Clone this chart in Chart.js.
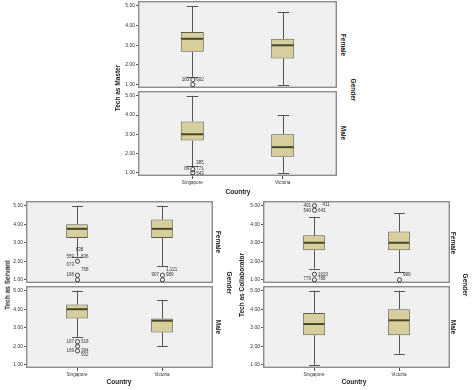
<!DOCTYPE html>
<html><head><meta charset="utf-8">
<script src="https://cdn.jsdelivr.net/npm/chart.js@4/dist/chart.umd.min.js"></script>
<style>
html,body{margin:0;padding:0;background:#fff;}
#wrap{position:relative;width:474px;height:390px;overflow:hidden;font-family:"Liberation Sans",Arial,sans-serif;}
canvas{position:absolute;}
.t{position:absolute;white-space:nowrap;font-weight:bold;color:#222;line-height:1;font-size:6.5px;transform:translate(-50%,-50%);}
.r90{transform:translate(-50%,-50%) rotate(90deg);}
.rm90{transform:translate(-50%,-50%) rotate(-90deg);}
</style></head>
<body><div id="wrap">
<canvas id="mF" width="221" height="87" style="left:116px;top:1px"></canvas>
<canvas id="mM" width="221" height="99" style="left:116px;top:91px"></canvas>
<canvas id="sF" width="209" height="82" style="left:4px;top:201px"></canvas>
<canvas id="sM" width="209" height="96" style="left:4px;top:286px"></canvas>
<canvas id="cF" width="209" height="82" style="left:241px;top:201px"></canvas>
<canvas id="cM" width="209" height="96" style="left:241px;top:286px"></canvas>

<div class="t rm90" style="left:118px;top:88px">Tech as Master</div>
<div class="t r90" style="left:343px;top:45px">Female</div>
<div class="t r90" style="left:343px;top:133px">Male</div>
<div class="t r90" style="left:353px;top:90px">Gender</div>
<div class="t" style="left:238px;top:192px">Country</div>

<div class="t rm90" style="left:8px;top:285px">Tech as Servant</div>
<div class="t r90" style="left:218px;top:242px">Female</div>
<div class="t r90" style="left:218px;top:327px">Male</div>
<div class="t r90" style="left:229px;top:283px">Gender</div>
<div class="t" style="left:119px;top:382px">Country</div>

<div class="t rm90" style="left:242px;top:285px">Tech as Collaborator</div>
<div class="t r90" style="left:453px;top:243px">Female</div>
<div class="t r90" style="left:453px;top:327px">Male</div>
<div class="t r90" style="left:465px;top:285px">Gender</div>
<div class="t" style="left:354px;top:382px">Country</div>
</div>
<script>
const countries = ['Singapore', 'Victoria'];
const yTickValues = [1, 2, 3, 4, 5];

// [min, q1, median, q3, max] for Singapore, Victoria
const masterFemale = [[1.4, 2.67, 3.33, 3.67, 5.0], [1.0, 2.33, 3.0, 3.33, 4.67]];
const masterMale = [[1.33, 2.67, 3.0, 3.67, 5.0], [1.0, 1.83, 2.33, 3.0, 4.0]];
const servantFemale = [[2.25, 3.25, 3.75, 4.0, 5.0], [1.75, 3.25, 3.75, 4.25, 5.0]];
const servantMale = [[2.5, 3.5, 4.0, 4.25, 5.0], [2.0, 2.75, 3.38, 3.5, 4.5]];
const collabFemale = [[1.6, 2.6, 3.0, 3.4, 4.4], [1.4, 2.6, 3.0, 3.6, 4.6]];
const collabMale = [[1.0, 2.6, 3.2, 3.8, 5.0], [1.6, 2.6, 3.4, 4.0, 5.0]];

// outliers: [country index, value]
const masterFemaleOutliers = [[0, 1.25], [0, 1.0]];
const masterMaleOutliers = [[0, 1.17], [0, 1.0]];
const servantFemaleOutliers = [[0, 2.0], [0, 1.25], [0, 1.0], [1, 1.25], [1, 1.0]];
const servantMaleOutliers = [[0, 2.25], [0, 2.0], [0, 1.75]];
const collabFemaleOutliers = [[0, 5.0], [0, 4.75], [0, 1.3], [0, 1.0], [1, 1.0]];
const collabMaleOutliers = [];

// case labels: [country index, value, text, side]
const masterFemaleLabels = [[0, 1.27, '183', 'L'], [0, 1.27, '602', 'R']];
const masterMaleLabels = [[0, 1.5, '385', 'R'], [0, 1.2, '89', 'L'], [0, 1.2, '771', 'R'], [0, 0.97, '543', 'R']];
const servantFemaleLabels = [[0, 2.6, '638', 'C'], [0, 2.27, '559', 'L'], [0, 2.27, '836', 'R'], [0, 1.82, '673', 'L'],
  [0, 1.54, '758', 'R'], [0, 1.29, '168', 'L'], [1, 1.54, '1,121', 'R'], [1, 1.29, '907', 'L'], [1, 1.29, '989', 'R']];
const servantMaleLabels = [[0, 2.25, '167', 'L'], [0, 2.25, '518', 'R'], [0, 1.77, '169', 'L'], [0, 1.77, '384', 'R'], [0, 1.52, '502', 'R']];
const collabFemaleLabels = [[0, 5.0, '401', 'L'], [0, 5.07, '411', 'RR'], [0, 4.75, '540', 'L'], [0, 4.75, '643', 'R'],
  [0, 1.3, '1620', 'R'], [0, 1.05, '779', 'L'], [0, 1.05, '788', 'R'], [1, 1.3, '989', 'R']];
const collabMaleLabels = [];

const FONT = '"Liberation Sans", Arial, sans-serif';

function makeBoxPlugin(stats, outs, labs) {
  return {
    id: 'boxExtras',
    beforeDatasetsDraw(chart) {
      const {ctx, chartArea: a} = chart;
      ctx.save();
      ctx.fillStyle = '#f0f0f0';
      ctx.fillRect(a.left, a.top, a.right - a.left, a.bottom - a.top);
      ctx.strokeStyle = '#8c8c8c';
      ctx.lineWidth = 1.4;
      ctx.strokeRect(a.left + 0.7, a.top + 0.7, a.right - a.left - 1.4, a.bottom - a.top - 1.4);
      ctx.restore();
    },
    afterDatasetsDraw(chart) {
      const {ctx} = chart;
      const xs = chart.scales.x, ys = chart.scales.y;
      const meta = chart.getDatasetMeta(0);
      const line = (x1, y1, x2, y2) => { ctx.beginPath(); ctx.moveTo(x1, y1); ctx.lineTo(x2, y2); ctx.stroke(); };
      ctx.save();
      stats.forEach((s, i) => {
        const el = meta.data[i];
        const cx = Math.round(el.x) + 0.5;
        const w = el.width;
        const py = v => ys.getPixelForValue(v);
        ctx.strokeStyle = '#555';
        ctx.lineWidth = 1;
        line(cx, py(s[4]), cx, py(s[3]));
        line(cx, py(s[1]), cx, py(s[0]));
        line(cx - w / 4, Math.round(py(s[4])) + 0.5, cx + w / 4, Math.round(py(s[4])) + 0.5);
        line(cx - w / 4, Math.round(py(s[0])) + 0.5, cx + w / 4, Math.round(py(s[0])) + 0.5);
        ctx.strokeStyle = '#4b4628';
        ctx.lineWidth = 2;
        line(el.x - w / 2 + 0.5, py(s[2]), el.x + w / 2 - 0.5, py(s[2]));
      });
      ctx.strokeStyle = '#333';
      ctx.lineWidth = 0.9;
      outs.forEach(o => {
        ctx.beginPath();
        ctx.arc(xs.getPixelForValue(o[0]) + 0.5, ys.getPixelForValue(o[1]), 2.1, 0, Math.PI * 2);
        ctx.stroke();
      });
      ctx.fillStyle = '#333';
      ctx.font = '4.5px ' + FONT;
      ctx.textBaseline = 'middle';
      labs.forEach(l => {
        const cx = xs.getPixelForValue(l[0]) + 0.5;
        const yy = ys.getPixelForValue(l[1]);
        if (l[3] === 'L') { ctx.textAlign = 'right'; ctx.fillText(l[2], cx - 3.5, yy); }
        else if (l[3] === 'R') { ctx.textAlign = 'left'; ctx.fillText(l[2], cx + 3.5, yy); }
        else if (l[3] === 'RR') { ctx.textAlign = 'left'; ctx.fillText(l[2], cx + 8, yy); }
        else { ctx.textAlign = 'center'; ctx.fillText(l[2], cx + 2, yy); }
      });
      ctx.restore();
    }
  };
}

function facet(id, stats, outs, labs, showX) {
  new Chart(document.getElementById(id), {
    type: 'bar',
    data: {
      datasets: [{
        data: stats.map((s, i) => ({x: i, y: [s[1], s[3]]})),
        backgroundColor: '#d6ce9b',
        borderColor: '#5f5d48',
        borderWidth: 1,
        borderSkipped: false,
        barPercentage: 0.255,
        categoryPercentage: 1
      }]
    },
    options: {
      responsive: false,
      animation: false,
      devicePixelRatio: 1,
      layout: {padding: 0, autoPadding: false},
      plugins: {legend: {display: false}, tooltip: {enabled: false}},
      scales: {
        x: {
          type: 'linear', min: -0.6, max: 1.6, offset: false, display: showX,
          grid: {display: true, drawOnChartArea: false, drawTicks: true, tickLength: 3, tickColor: '#555', offset: false},
          border: {display: false},
          afterBuildTicks: s => { s.ticks = countries.map((c, i) => ({value: i})); },
          ticks: {callback: v => countries[v], font: {size: 4.6, family: FONT}, color: '#333', padding: 1, maxRotation: 0, autoSkip: false},
          afterFit: s => { s.height = showX ? 14 : 0; s.paddingLeft = 0; s.paddingRight = 0; s.paddingTop = 0; s.paddingBottom = 0; }
        },
        y: {
          min: 0.83, max: 5.25,
          grid: {display: true, drawOnChartArea: false, drawTicks: true, tickLength: 2, tickColor: '#555'},
          border: {display: false},
          afterBuildTicks: s => { s.ticks = yTickValues.map(v => ({value: v})); },
          ticks: {callback: v => v.toFixed(2), font: {size: 5, family: FONT}, color: '#333', padding: 1},
          afterFit: s => { s.width = 22; s.paddingTop = 0; s.paddingBottom = 0; s.paddingLeft = 0; s.paddingRight = 0; }
        }
      }
    },
    plugins: [makeBoxPlugin(stats, outs, labs)]
  });
}

facet('mF', masterFemale, masterFemaleOutliers, masterFemaleLabels, false);
facet('mM', masterMale, masterMaleOutliers, masterMaleLabels, true);
facet('sF', servantFemale, servantFemaleOutliers, servantFemaleLabels, false);
facet('sM', servantMale, servantMaleOutliers, servantMaleLabels, true);
facet('cF', collabFemale, collabFemaleOutliers, collabFemaleLabels, false);
facet('cM', collabMale, collabMaleOutliers, collabMaleLabels, true);
</script>
</body></html>
